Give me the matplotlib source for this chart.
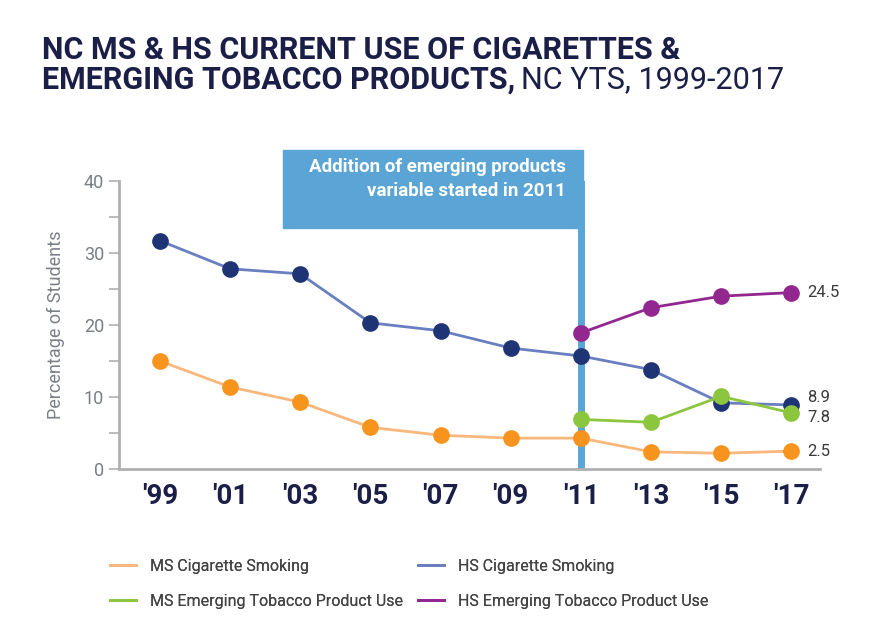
import matplotlib
matplotlib.use("Agg")
import matplotlib.pyplot as plt

# data
years = ["'99", "'01", "'03", "'05", "'07", "'09", "'11", "'13", "'15", "'17"]
ms_cig = [15.0, 11.4, 9.3, 5.8, 4.7, 4.3, 4.3, 2.4, 2.2, 2.5]
hs_cig = [31.7, 27.8, 27.1, 20.3, 19.2, 16.8, 15.7, 13.8, 9.2, 8.9]
ms_emerg = [6.9, 6.5, 10.1, 7.8]
hs_emerg = [18.9, 22.4, 24.0, 24.5]
emerg_start = 6  # index of '11

plt.rcParams['font.family'] = ['Roboto', 'DejaVu Sans']

NAVY = '#1b1e46'
GREY = '#7a7f86'
BOXBLUE = '#5aa5d5'
W, H = 880, 628

fig = plt.figure(figsize=(8.8, 6.28), dpi=100)
ax = fig.add_axes([0.135, 0.253, 0.797, 0.459])

x_all = list(range(len(years)))
x_em = x_all[emerg_start:]

series = [
    (x_all, ms_cig, '#f9b77c', '#f7941d', 'MS Cigarette Smoking'),
    (x_all, hs_cig, '#6a7fc0', '#1f3474', 'HS Cigarette Smoking'),
    (x_em, ms_emerg, '#8cc63f', '#8cc63f', 'MS Emerging Tobacco Product Use'),
    (x_em, hs_emerg, '#92278f', '#92278f', 'HS Emerging Tobacco Product Use'),
]

# vertical marker for 2011 plus the annotation box
ax.axvline(emerg_start, color=BOXBLUE, lw=5, zorder=1)
fig.patches.append(plt.Rectangle((283 / W, 1 - 228 / H), 300 / W, 78 / H,
                                 transform=fig.transFigure, color=BOXBLUE, zorder=0))
fig.text(566 / W, 1 - 179 / H, "Addition of emerging products\nvariable started in 2011",
         ha='right', va='center', color='white', fontsize=13.5, fontweight='bold',
         linespacing=1.4)

handles = {}
for xs, ys, lc, mc, lab in series:
    ax.plot(xs, ys, color=lc, lw=2, zorder=3)
    ax.plot(xs, ys, 'o', color=mc, ms=11, zorder=4)
    h, = ax.plot([], [], color=lc, lw=2, label=lab)
    handles[lab] = h

# end labels
for val, yoff in [(hs_emerg[-1], 0), (hs_cig[-1], 1.1), (ms_emerg[-1], -0.7), (ms_cig[-1], 0)]:
    ax.text(len(years) - 1 + 0.23, val + yoff, f"{val:.1f}", ha='left', va='center',
            fontsize=12, color='#3a3a3a')

ax.set_xlim(-0.585, 9.41)
ax.set_ylim(0, 40)
ax.set_yticks([0, 10, 20, 30, 40])
ax.set_yticks([5, 15, 25, 35], minor=True)
ax.set_xticks(x_all)
ax.set_xticklabels(years, fontsize=20, fontweight='bold', color=NAVY)
ax.tick_params(axis='x', length=0, pad=10)
ax.tick_params(axis='y', which='both', direction='out', length=7, width=1.2,
               colors='#b0b0b0', labelcolor=GREY, labelsize=13)
for s in ['top', 'right']:
    ax.spines[s].set_visible(False)
for s in ['left', 'bottom']:
    ax.spines[s].set_color('#b0b0b0')
    ax.spines[s].set_linewidth(2)
ax.set_ylabel('Percentage of Students', fontsize=13, color=GREY, labelpad=14)

# title
fig.text(42 / W, 1 - 50 / H, "NC MS & HS CURRENT USE OF CIGARETTES &",
         fontsize=22, fontweight='bold', color=NAVY, va='center')
t = fig.text(42 / W, 1 - 80 / H, "EMERGING TOBACCO PRODUCTS,",
             fontsize=22, fontweight='bold', color=NAVY, va='center')
fig.canvas.draw()
bb = t.get_window_extent()
fig.text((bb.x1 + 6) / W, 1 - 80 / H, "NC YTS, 1999-2017",
         fontsize=22, color=NAVY, va='center')

# legend: two columns placed separately
cols = [(['MS Cigarette Smoking', 'MS Emerging Tobacco Product Use'], 110),
        (['HS Cigarette Smoking', 'HS Emerging Tobacco Product Use'], 418)]
for labs, x0 in cols:
    leg = fig.legend(handles=[handles[l] for l in labs], loc='upper left',
                     bbox_to_anchor=(x0 / W, 1 - 559 / H), frameon=False, fontsize=11.5,
                     handlelength=1.6, handletextpad=0.9, labelspacing=1.25,
                     borderpad=0, borderaxespad=0, labelcolor='#444444')
    fig.add_artist(leg)

fig.savefig('out.png', dpi=100, facecolor='white')
